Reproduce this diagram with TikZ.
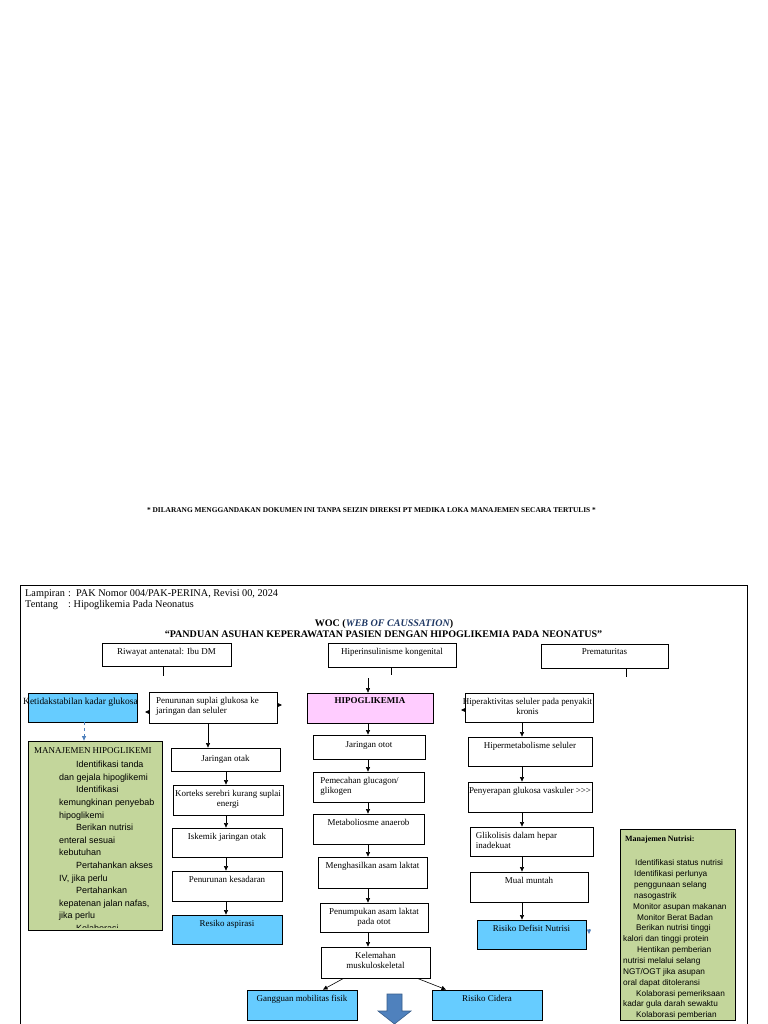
\documentclass[tikz,border=0pt]{standalone}
\usepackage{fontspec}
\setmainfont{Liberation Serif}
\setsansfont{Liberation Sans}
\usetikzlibrary{arrows.meta,calc}
\definecolor{skyb}{HTML}{66CCFF}
\definecolor{pinkb}{HTML}{FFCCFF}
\definecolor{greenb}{HTML}{C3D69B}
\definecolor{navyt}{HTML}{1F3864}
\definecolor{arrowb}{HTML}{4F81BD}
\definecolor{arrowbd}{HTML}{385D8A}
\tikzset{
 boxst/.style={draw=black, line width=0.8bp, inner sep=0pt, rectangle},
 wfill/.style={fill=white},
 bfill/.style={fill=skyb},
 pfill/.style={fill=pinkb},
 txc/.style={anchor=north, inner sep=0.5bp, align=center, font=\fontsize{9}{11}\selectfont},
 txl/.style={txc, align=left},
 arr/.style={-{Triangle[length=4.5bp,width=4bp]}, line width=0.6bp},
 stub/.style={line width=0.6bp},
 hdr/.style={anchor=base west, inner sep=0, font=\fontsize{10.3}{12}\selectfont},
}
\newcommand\wbox[8]{%
 \pgfmathsetmacro\wbW{#4-#2}\pgfmathsetmacro\wbH{#5-#3}%
 \pgfmathsetmacro\wbX{(#2+#4)/2}\pgfmathsetmacro\wbY{(#3+#5)/2}%
 \node[boxst,#6,minimum width=\wbW bp,minimum height=\wbH bp] (#1) at (\wbX,\wbY) {};%
 \node[#7] (#1-t) at ([yshift=-4.5bp]#1.north) {#8};}
\begin{document}
\begin{tikzpicture}[x=1bp,y=-1bp]
\path[use as bounding box] (0,0) rectangle (768,1024);
\clip (0,0) rectangle (768,1024);
\fill[white] (0,0) rectangle (768,1024);

\node[font=\bfseries\fontsize{7.4}{9}\selectfont, inner sep=0] (warn) at (371.5,510) {* DILARANG MENGGANDAKAN DOKUMEN INI TANPA SEIZIN DIREKSI PT MEDIKA LOKA MANAJEMEN SECARA TERTULIS *};

\draw[line width=0.8bp] (20,585) rectangle (747,1040);

\node[hdr] (lamp) at (25,596.5) {Lampiran};
\node[hdr] (lampv) at (68,596.5) {:\ \ PAK Nomor 004/PAK-PERINA, Revisi 00, 2024};
\node[hdr] (tent) at (25,607.5) {Tentang};
\node[hdr] (tentv) at (68,607.5) {:\ Hipoglikemia Pada Neonatus};

\node[anchor=base, inner sep=0, font=\bfseries\fontsize{10.1}{12}\selectfont] (woc) at (384,626) {WOC (\textcolor{navyt}{\itshape WEB OF CAUSSATION})};
\node[anchor=base, inner sep=0, font=\bfseries\fontsize{10.1}{12}\selectfont] (title) at (383.5,637) {“PANDUAN ASUHAN KEPERAWATAN PASIEN DENGAN HIPOGLIKEMIA PADA NEONATUS”};

% top row
\wbox{riw}{102}{643}{231}{666}{wfill}{txc}{Riwayat antenatal: Ibu DM}
\wbox{hip}{328}{643}{456}{667}{wfill}{txc}{Hiperinsulinisme kongenital}
\wbox{pre}{541}{644}{668}{668}{wfill}{txc}{Prematuritas}
\coordinate (riwE) at (163,676);
\coordinate (hipE) at (391,675);
\coordinate (preE) at (626,677);
\draw[stub] (riw.south -| riwE) -- (riwE);
\draw[stub] (hip.south -| hipE) -- (hipE);
\draw[stub] (pre.south -| preE) -- (preE);

% second row
\wbox{ket}{28}{693}{137}{722}{bfill}{txc,font=\fontsize{9.5}{11}\selectfont,xshift=-2bp}{Ketidakstabilan kadar glukosa}
\wbox{pen}{149}{692}{277}{723}{wfill}{txl,xshift=-5.5bp}{Penurunan suplai glukosa ke\\jaringan dan seluler}
\wbox{hipo}{307}{693}{433}{723}{pfill}{txc,font=\bfseries\fontsize{9}{11}\selectfont}{HIPOGLIKEMIA}
\wbox{hpa}{465}{693}{593}{722}{wfill}{txc,xshift=-1.5bp}{Hiperaktivitas seluler pada penyakit\\kronis}
\coordinate (hipoIn) at (368,678);
\draw[arr, line width=0.4bp] (hipoIn) -- (hipoIn |- hipo.north);
\coordinate (penL) at (145,712);
\coordinate (penR) at (282,705);
\coordinate (hpaL) at (461,710);
\draw[arr] (pen.west |- penL) -- (penL);
\draw[arr] (pen.east |- penR) -- (penR);
\draw[arr] (hpa.west |- hpaL) -- (hpaL);

% left column
\coordinate (colL) at (226,0);
\coordinate (colP) at (208,0);
\wbox{otak}{171}{748}{280}{771}{wfill}{txc,yshift=-2.5bp}{Jaringan otak}
\wbox{kor}{173}{785}{283}{815}{wfill}{txc}{Korteks serebri kurang suplai\\energi}
\wbox{isk}{172}{828}{282}{857}{wfill}{txc}{Iskemik jaringan otak}
\wbox{kes}{172}{871}{282}{901}{wfill}{txc}{Penurunan kesadaran}
\wbox{asp}{172}{915}{282}{944}{bfill}{txc}{Resiko aspirasi}
\draw[arr] (pen.south -| colP) -- (otak.north -| colP);
\draw[arr] (otak.south -| colL) -- (kor.north -| colL);
\draw[arr] (kor.south -| colL) -- (isk.north -| colL);
\draw[arr] (isk.south -| colL) -- (kes.north -| colL);
\draw[arr] (kes.south -| colL) -- (asp.north -| colL);

% middle column
\coordinate (colM) at (368,0);
\wbox{otot}{313}{735}{425}{759}{wfill}{txc,yshift=-1.5bp}{Jaringan otot}
\wbox{pem}{313}{772}{424}{802}{wfill}{txl,xshift=-9bp}{Pemecahan glucagon/\\glikogen}
\wbox{met}{313}{814}{424}{844}{wfill}{txc}{Metaboliosme anaerob}
\wbox{lak}{318}{857}{427}{888}{wfill}{txc}{Menghasilkan asam laktat}
\wbox{pnk}{320}{903}{428}{932}{wfill}{txc}{Penumpukan asam laktat\\pada otot}
\wbox{kel}{321}{947}{430}{978}{wfill}{txc}{Kelemahan\\muskuloskeletal}
\draw[arr] (hipo.south -| colM) -- (otot.north -| colM);
\draw[arr] (otot.south -| colM) -- (pem.north -| colM);
\draw[arr] (pem.south -| colM) -- (met.north -| colM);
\draw[arr] (met.south -| colM) -- (lak.north -| colM);
\draw[arr] (lak.south -| colM) -- (pnk.north -| colM);
\draw[arr] (pnk.south -| colM) -- (kel.north -| colM);

\wbox{gmf}{247}{990}{357}{1020}{bfill}{txc}{Gangguan mobilitas fisik}
\wbox{rc}{432}{990}{542}{1020}{bfill}{txc}{Risiko Cidera}
\draw[arr] ([xshift=-32bp]kel.south) -- ([xshift=21bp]gmf.north);
\draw[arr] ([xshift=42bp]kel.south) -- ([xshift=-41bp]rc.north);

% big blue arrow
\filldraw[fill=arrowb, draw=arrowbd, line width=0.6bp] (387,994) -- (402,994) -- (402,1011) -- (411,1011) -- (394.5,1024) -- (378,1011) -- (387,1011) -- cycle;

% right column
\coordinate (colR) at (522,0);
\wbox{hms}{468}{737}{592}{766}{wfill}{txc}{Hipermetabolisme seluler}
\wbox{pgv}{468}{782}{592}{812}{wfill}{txc}{Penyerapan glukosa vaskuler >{}>{}>}
\wbox{gli}{470}{827}{593}{856}{wfill}{txl,xshift=-15bp}{Glikolisis dalam hepar\\inadekuat}
\wbox{mm}{470}{872}{588}{902}{wfill}{txc}{Mual muntah}
\wbox{rdn}{477}{920}{586}{949}{bfill}{txc}{Risiko Defisit Nutrisi}
\draw[arr] (hpa.south -| colR) -- (hms.north -| colR);
\draw[arr] (hms.south -| colR) -- (pgv.north -| colR);
\draw[arr] (pgv.south -| colR) -- (gli.north -| colR);
\draw[arr] (gli.south -| colR) -- (mm.north -| colR);
\draw[arr] (mm.south -| colR) -- (rdn.north -| colR);
\coordinate (rdnE) at (589,934);
\draw[arr, draw=arrowb, fill=arrowb, line width=0.4bp] (589,929) -- (rdnE);

% Manajemen hipoglikemi
\node[boxst, fill=greenb, minimum width=134bp, minimum height=189bp] (mh) at (95,835.5) {};
\draw[arr, dashed, draw=arrowb, line width=0.8bp] (ket.south -| 84,0) -- (mh.north -| 84,0);
\begin{scope}
\clip ([yshift=-1bp]mh.north west) rectangle ([yshift=3bp]mh.south east);
\node[anchor=north west, inner sep=0, font=\fontsize{9}{11}\selectfont] (mh-t) at (34,747) {MANAJEMEN HIPOGLIKEMI};
\node[anchor=north west, inner sep=0, align=left, font=\sffamily\fontsize{9}{12.65}\selectfont] (mh-b) at (59,761) {\hspace*{17bp}Identifikasi tanda\\dan gejala hipoglikemi\\\hspace*{17bp}Identifikasi\\kemungkinan penyebab\\hipoglikemi\\\hspace*{17bp}Berikan nutrisi\\enteral sesuai\\kebutuhan\\\hspace*{17bp}Pertahankan akses\\IV, jika perlu\\\hspace*{17bp}Pertahankan\\kepatenan jalan nafas,\\jika perlu\\\hspace*{17bp}Kolaborasi};
\end{scope}

% Manajemen nutrisi
\node[boxst, fill=greenb, minimum width=115bp, minimum height=191bp] (mn) at (677.5,924.5) {};
\begin{scope}
\clip (mn.north west) rectangle ([yshift=2bp]mn.south east);
\node[anchor=north west, inner sep=0, font=\bfseries\fontsize{8}{10}\selectfont] (mn-t) at (625,835.5) {Manajemen Nutrisi:};
\node[anchor=north west, inner sep=0, align=left, font=\sffamily\fontsize{8.3}{10.9}\selectfont] (mn-b) at (623,859.5) {\hspace*{12bp}Identifikasi status nutrisi\\\hspace*{11bp}Identifikasi perlunya\\\hspace*{11bp}penggunaan selang\\\hspace*{11bp}nasogastrik\\\hspace*{10bp}Monitor asupan makanan\\\hspace*{14bp}Monitor Berat Badan\\\hspace*{13bp}Berikan nutrisi tinggi\\kalori dan tinggi protein\\\hspace*{14bp}Hentikan pemberian\\nutrisi melalui selang\\NGT/OGT jika asupan\\oral dapat ditoleransi\\\hspace*{13bp}Kolaborasi pemeriksaan\\kadar gula darah sewaktu\\\hspace*{13bp}Kolaborasi pemberian};
\end{scope}
\end{tikzpicture}
\end{document}
